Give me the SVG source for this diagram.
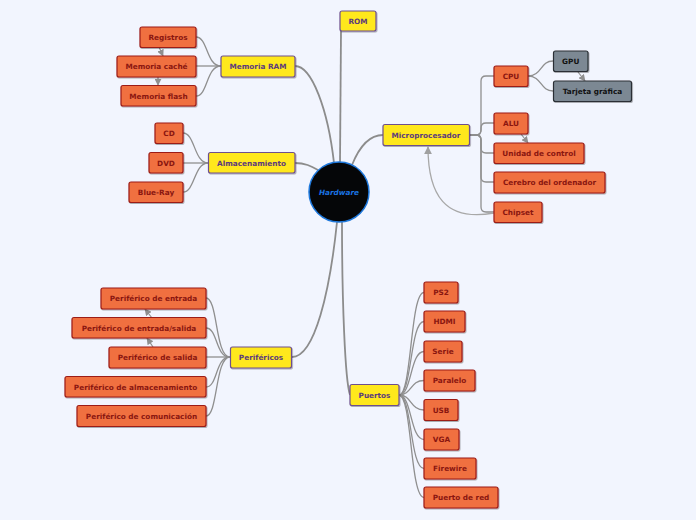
<svg xmlns="http://www.w3.org/2000/svg" width="696" height="520" viewBox="0 0 696 520">
<defs>
<filter id="sh" x="-10%" y="-20%" width="130%" height="150%"><feDropShadow dx="0.8" dy="1" stdDeviation="0.6" flood-color="#000" flood-opacity="0.3"/></filter>
<marker id="ah" viewBox="0 0 10 10" refX="9" refY="5" markerWidth="7" markerHeight="7" orient="auto" markerUnits="userSpaceOnUse"><path d="M0,0 L10,5 L0,10 z" fill="#8f8f8f"/></marker>
<marker id="ah2" viewBox="0 0 10 10" refX="9" refY="5" markerWidth="8" markerHeight="8" orient="auto" markerUnits="userSpaceOnUse"><path d="M0,0 L10,5 L0,10 z" fill="#a0a0a0"/></marker>
</defs>
<style>
text{font-family:"DejaVu Sans","Verdana",sans-serif;font-size:7.3px;font-weight:bold;text-anchor:middle;dominant-baseline:central}
.t rect{fill:#ffe81a;stroke:#6e4f8e;stroke-width:1.2;filter:url(#sh)}
.t text{fill:#5c3b7c}
.o rect{fill:#f07040;stroke:#9c1a14;stroke-width:1.2;filter:url(#sh)}
.o text{fill:#8a1610}
.g rect{fill:#7b8893;stroke:#2a2f34;stroke-width:1.2;filter:url(#sh)}
.g text{fill:#111}
.c path{fill:none;stroke:#8f8f8f;stroke-width:1.3}
.c .hub{stroke-width:1.8;stroke:#8c8c8c}
.c .ar{stroke:#8f8f8f;stroke-width:1.2}
.c .ar2{stroke:#a8a8a8;stroke-width:1.3}
</style>
<rect width="696" height="520" fill="#f2f5fe"/>
<g id="connectors" class="c">
<path class="hub" d="M295,66 C312,66 328,110 334,163"/>
<path class="hub" d="M341,31 L340,163"/>
<path class="hub" d="M295,163 C305,163 311,166 318,170"/>
<path class="hub" d="M383,135 C368,135 358,150 352,165"/>
<path class="hub" d="M292,357 C315,357 330,290 337,222"/>
<path class="hub" d="M350,395 C345,380 342,300 342,222"/>
<path d="M221,66 C206,66 208,37 196,37"/>
<path d="M221,66 L196,66"/>
<path d="M221,66 C206,66 208,96 196,96"/>
<path d="M208,163 C194,163 195,133 183,133"/>
<path d="M208,163 L183,163"/>
<path d="M208,163 C194,163 195,192 183,192"/>
<path d="M230,357 C215,357 218,298 206,298"/>
<path d="M230,357 C215,357 218,328 206,328"/>
<path d="M230,357 L206,357"/>
<path d="M230,357 C215,357 218,387 206,387"/>
<path d="M230,357 C215,357 218,416 206,416"/>
<path d="M470,135 L476,135 Q481,135 481,130 L481,81 Q481,76 486,76 L494,76"/>
<path d="M470,135 L476,135 Q481,135 481,130 L481,128 Q481,123 486,123 L494,123"/>
<path d="M470,135 L476,135 Q481,135 481,140 L481,148 Q481,153 486,153 L494,153"/>
<path d="M470,135 L476,135 Q481,135 481,140 L481,177 Q481,182 486,182 L494,182"/>
<path d="M470,135 L476,135 Q481,135 481,140 L481,207 Q481,212 486,212 L494,212"/>
<path d="M528,76 C542,76 540,61 553,61"/>
<path d="M528,76 C542,76 540,91 553,91"/>
<path d="M399,395 C412,395 410,292.5 424,292.5"/>
<path d="M399,395 C412,395 410,321.5 424,321.5"/>
<path d="M399,395 C412,395 410,351.5 424,351.5"/>
<path d="M399,395 C412,395 410,380.5 424,380.5"/>
<path d="M399,395 C412,395 410,410 424,410"/>
<path d="M399,395 C412,395 410,439.5 424,439.5"/>
<path d="M399,395 C412,395 410,468.5 424,468.5"/>
<path d="M399,395 C412,395 410,497.5 424,497.5"/>
<path class="ar2" d="M494,213 C445,222 428,195 428,147" marker-end="url(#ah2)"/>
<path class="ar" d="M578,72 L585,81" marker-end="url(#ah)"/>
<path class="ar" d="M521,134 L528,143" marker-end="url(#ah)"/>
<path class="ar" d="M159,47 L163,56" marker-end="url(#ah)"/>
<path class="ar" d="M158,77 L158,85" marker-end="url(#ah)"/>
<path class="ar" d="M152,318 L145,309" marker-end="url(#ah)"/>
<path class="ar" d="M153,347 L147,338" marker-end="url(#ah)"/>
</g>
<g id="hardware"><circle cx="339" cy="192" r="30" fill="#050608" stroke="#1e78dc" stroke-width="1.5"/><text x="339" y="192" style="font-style:italic;fill:#1a72e0">Hardware</text></g>
<g id="rom" class="t"><rect x="340" y="11" width="36" height="20" rx="2"/><text x="358" y="21">ROM</text></g>
<g id="memoria-ram" class="t"><rect x="221" y="56" width="74" height="21" rx="2"/><text x="258" y="66.5">Memoria RAM</text></g>
<g id="almacenamiento" class="t"><rect x="208.5" y="152.5" width="86.5" height="20.5" rx="2"/><text x="251.5" y="163">Almacenamiento</text></g>
<g id="microprocesador" class="t"><rect x="383" y="124.5" width="86.5" height="21" rx="2"/><text x="426" y="135">Microprocesador</text></g>
<g id="perifericos" class="t"><rect x="230.5" y="347" width="61" height="21" rx="2"/><text x="261" y="357.5">Periféricos</text></g>
<g id="puertos" class="t"><rect x="350" y="384.5" width="49" height="21" rx="2"/><text x="374.5" y="395">Puertos</text></g>
<g id="registros" class="o"><rect x="140" y="27" width="56" height="20.5" rx="2"/><text x="168" y="37">Registros</text></g>
<g id="memoria-cache" class="o"><rect x="117" y="56" width="79" height="21" rx="2"/><text x="156.5" y="66.5">Memoria caché</text></g>
<g id="memoria-flash" class="o"><rect x="121" y="85.5" width="75" height="20.5" rx="2"/><text x="158.5" y="96">Memoria flash</text></g>
<g id="cd" class="o"><rect x="155" y="123" width="28" height="20.5" rx="2"/><text x="169" y="133">CD</text></g>
<g id="dvd" class="o"><rect x="149" y="152.5" width="34" height="20.5" rx="2"/><text x="166" y="163">DVD</text></g>
<g id="blue-ray" class="o"><rect x="129" y="182" width="54" height="20.5" rx="2"/><text x="156" y="192">Blue-Ray</text></g>
<g id="cpu" class="o"><rect x="494" y="66" width="34" height="20.5" rx="2"/><text x="511" y="76">CPU</text></g>
<g id="gpu" class="g"><rect x="553.5" y="51" width="34.5" height="20.5" rx="2"/><text x="570.7" y="61">GPU</text></g>
<g id="tarjeta-grafica" class="g"><rect x="553.5" y="81" width="78" height="20.5" rx="2"/><text x="592.5" y="91">Tarjeta gráfica</text></g>
<g id="alu" class="o"><rect x="494" y="113" width="34" height="21" rx="2"/><text x="511" y="123.5">ALU</text></g>
<g id="unidad-de-control" class="o"><rect x="494" y="143" width="90" height="20.5" rx="2"/><text x="539" y="153">Unidad de control</text></g>
<g id="cerebro-del-ordenador" class="o"><rect x="494" y="172" width="111" height="21" rx="2"/><text x="549.5" y="182.5">Cerebro del ordenador</text></g>
<g id="chipset" class="o"><rect x="494" y="202" width="48" height="20.5" rx="2"/><text x="518" y="212">Chipset</text></g>
<g id="periferico-entrada" class="o"><rect x="101" y="288" width="105" height="21" rx="2"/><text x="153.5" y="298.5">Periférico de entrada</text></g>
<g id="periferico-entrada-salida" class="o"><rect x="72" y="317.5" width="134" height="20.5" rx="2"/><text x="139" y="328">Periférico de entrada/salida</text></g>
<g id="periferico-salida" class="o"><rect x="109" y="347" width="97" height="21" rx="2"/><text x="157.5" y="357.5">Periférico de salida</text></g>
<g id="periferico-almacenamiento" class="o"><rect x="65" y="376.5" width="141" height="20.5" rx="2"/><text x="135.5" y="387">Periférico de almacenamiento</text></g>
<g id="periferico-comunicacion" class="o"><rect x="77" y="405.5" width="129" height="21" rx="2"/><text x="141.5" y="416">Periférico de comunicación</text></g>
<g id="ps2" class="o"><rect x="424" y="282" width="34" height="21" rx="2"/><text x="441" y="292.5">PS2</text></g>
<g id="hdmi" class="o"><rect x="424" y="311" width="41" height="21" rx="2"/><text x="444.5" y="321.5">HDMI</text></g>
<g id="serie" class="o"><rect x="424" y="341" width="38" height="21" rx="2"/><text x="443" y="351.5">Serie</text></g>
<g id="paralelo" class="o"><rect x="424" y="370" width="51" height="21" rx="2"/><text x="449.5" y="380.5">Paralelo</text></g>
<g id="usb" class="o"><rect x="424" y="399.5" width="34" height="21" rx="2"/><text x="441" y="410">USB</text></g>
<g id="vga" class="o"><rect x="424" y="429" width="35" height="21" rx="2"/><text x="441.5" y="439.5">VGA</text></g>
<g id="firewire" class="o"><rect x="424" y="458" width="52" height="21" rx="2"/><text x="450" y="468.5">Firewire</text></g>
<g id="puerto-de-red" class="o"><rect x="424" y="487" width="74" height="21" rx="2"/><text x="461" y="497.5">Puerto de red</text></g>
</svg>
